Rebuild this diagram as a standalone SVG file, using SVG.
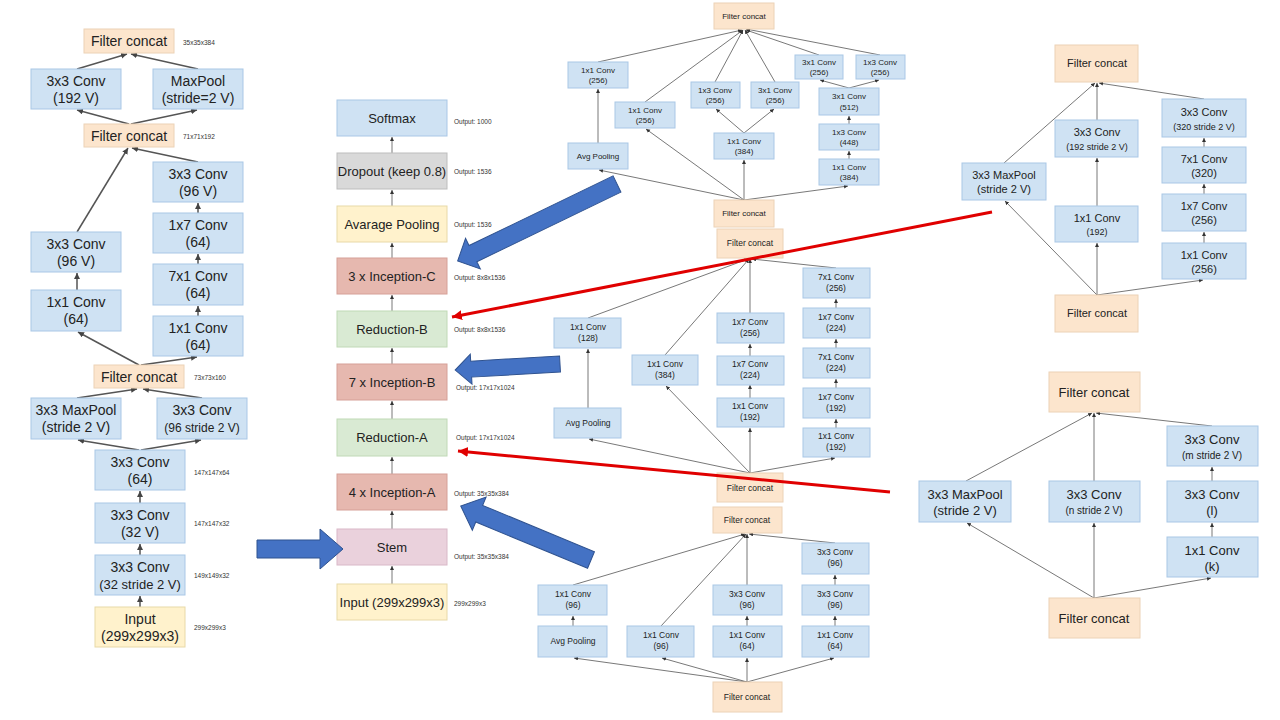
<svg xmlns="http://www.w3.org/2000/svg" width="1280" height="720" viewBox="0 0 1280 720">
<style>
text{font-family:"Liberation Sans",Arial,sans-serif;text-anchor:middle;fill:#222}
.b{fill:#cfe2f3;stroke:#a9c7e6;stroke-width:1}
.o{fill:#fce5cd;stroke:#ecd2b6;stroke-width:1}
.y{fill:#fff2cc;stroke:#e8d9a8;stroke-width:1}
.g{fill:#d9ead3;stroke:#c0d9b6;stroke-width:1}
.r{fill:#e6b8af;stroke:#d6a097;stroke-width:1}
.p{fill:#ead1dc;stroke:#d9b8c8;stroke-width:1}
.d{fill:#d9d9d9;stroke:#bdbdbd;stroke-width:1}
.f14{font-size:14px}.f13{font-size:13px}.f12{font-size:12px}.f11{font-size:11px}.f10{font-size:10px}.f9{font-size:9px}.f85{font-size:8.5px}.f8{font-size:8px}
.lab{font-size:6.5px;text-anchor:start;fill:#333}
.cl{stroke:#555;stroke-width:1.5;fill:none;marker-end:url(#ah)}
.cs{stroke:#555;stroke-width:0.8;fill:none;marker-end:url(#as)}
.red{stroke:#e00000;stroke-width:3;fill:none;marker-end:url(#ar)}
.blue{fill:#4472c4;stroke:#2f528f;stroke-width:1}
</style>
<defs>
<marker id="ah" markerUnits="userSpaceOnUse" markerWidth="7" markerHeight="7" refX="6" refY="3" orient="auto"><path d="M0,0 L6,3 L0,6 z" fill="#444"/></marker>
<marker id="as" markerUnits="userSpaceOnUse" markerWidth="5" markerHeight="5" refX="4" refY="2" orient="auto"><path d="M0,0 L4,2 L0,4 z" fill="#333"/></marker>
<marker id="ar" markerUnits="userSpaceOnUse" markerWidth="12" markerHeight="12" refX="10" refY="5" orient="auto"><path d="M0,0 L10,5 L0,10 z" fill="#e00000"/></marker>
</defs>
<rect width="1280" height="720" fill="#ffffff"/>

<!-- connectors -->
<g id="connectors">
<!-- stem (left) -->
<line class="cl" x1="77" y1="69" x2="127" y2="54"/>
<line class="cl" x1="198" y1="69" x2="131" y2="54"/>
<line class="cl" x1="129" y1="124" x2="77" y2="110"/>
<line class="cl" x1="131" y1="124" x2="197" y2="110"/>
<line class="cl" x1="77" y1="232" x2="128" y2="148"/>
<line class="cl" x1="198" y1="162" x2="132" y2="148"/>
<line class="cl" x1="198" y1="213" x2="198" y2="203"/>
<line class="cl" x1="198" y1="264" x2="198" y2="254"/>
<line class="cl" x1="198" y1="316" x2="198" y2="306"/>
<line class="cl" x1="77" y1="290" x2="77" y2="273"/>
<line class="cl" x1="139" y1="365" x2="78" y2="332"/>
<line class="cl" x1="141" y1="365" x2="197" y2="357"/>
<line class="cl" x1="77" y1="398" x2="137" y2="389"/>
<line class="cl" x1="202" y1="398" x2="143" y2="389"/>
<line class="cl" x1="139" y1="450" x2="78" y2="440"/>
<line class="cl" x1="141" y1="450" x2="201" y2="440"/>
<line class="cl" x1="140" y1="503" x2="140" y2="491"/>
<line class="cl" x1="140" y1="555" x2="140" y2="544"/>
<line class="cl" x1="140" y1="607" x2="140" y2="596"/>
<!-- main column -->
<line class="cs" x1="392" y1="153" x2="392" y2="137"/>
<line class="cs" x1="392" y1="206" x2="392" y2="190"/>
<line class="cs" x1="392" y1="258" x2="392" y2="243"/>
<line class="cs" x1="392" y1="311" x2="392" y2="295"/>
<line class="cs" x1="392" y1="364" x2="392" y2="348"/>
<line class="cs" x1="392" y1="419" x2="392" y2="401"/>
<line class="cs" x1="392" y1="474" x2="392" y2="457"/>
<line class="cs" x1="392" y1="529" x2="392" y2="511"/>
<line class="cs" x1="392" y1="584" x2="392" y2="566"/>
<!-- Inception-C -->
<line class="cs" x1="744" y1="200" x2="599" y2="170"/>
<line class="cs" x1="744" y1="200" x2="646" y2="129"/>
<line class="cs" x1="744" y1="200" x2="744" y2="160"/>
<line class="cs" x1="744" y1="200" x2="848" y2="186"/>
<line class="cs" x1="598" y1="143" x2="598" y2="89"/>
<line class="cs" x1="744" y1="133" x2="716" y2="109"/>
<line class="cs" x1="744" y1="133" x2="774" y2="109"/>
<line class="cs" x1="849" y1="159" x2="849" y2="151"/>
<line class="cs" x1="849" y1="124" x2="849" y2="116"/>
<line class="cs" x1="849" y1="88" x2="820" y2="80"/>
<line class="cs" x1="849" y1="88" x2="879" y2="80"/>
<line class="cs" x1="598" y1="62" x2="742" y2="30"/>
<line class="cs" x1="645" y1="102" x2="743" y2="30"/>
<line class="cs" x1="715" y1="82" x2="743" y2="30"/>
<line class="cs" x1="775" y1="82" x2="745" y2="30"/>
<line class="cs" x1="819" y1="55" x2="746" y2="30"/>
<line class="cs" x1="880" y1="55" x2="746" y2="29"/>
<!-- Inception-B -->
<line class="cs" x1="750" y1="473" x2="589" y2="439"/>
<line class="cs" x1="750" y1="473" x2="666" y2="386"/>
<line class="cs" x1="750" y1="473" x2="750" y2="428"/>
<line class="cs" x1="750" y1="473" x2="835" y2="458"/>
<line class="cs" x1="588" y1="408" x2="588" y2="349"/>
<line class="cs" x1="750" y1="398" x2="750" y2="385"/>
<line class="cs" x1="750" y1="356" x2="750" y2="344"/>
<line class="cs" x1="836" y1="428" x2="836" y2="419"/>
<line class="cs" x1="836" y1="388" x2="836" y2="379"/>
<line class="cs" x1="836" y1="348" x2="836" y2="339"/>
<line class="cs" x1="836" y1="308" x2="836" y2="299"/>
<line class="cs" x1="588" y1="318" x2="748" y2="259"/>
<line class="cs" x1="665" y1="355" x2="749" y2="259"/>
<line class="cs" x1="750" y1="313" x2="750" y2="259"/>
<line class="cs" x1="836" y1="268" x2="752" y2="259"/>
<!-- Inception-A -->
<line class="cs" x1="747" y1="682" x2="574" y2="658"/>
<line class="cs" x1="747" y1="682" x2="662" y2="658"/>
<line class="cs" x1="747" y1="682" x2="747" y2="658"/>
<line class="cs" x1="747" y1="682" x2="834" y2="658"/>
<line class="cs" x1="573" y1="626" x2="573" y2="616"/>
<line class="cs" x1="747" y1="626" x2="747" y2="616"/>
<line class="cs" x1="835" y1="626" x2="835" y2="616"/>
<line class="cs" x1="835" y1="585" x2="835" y2="575"/>
<line class="cs" x1="573" y1="585" x2="745" y2="534"/>
<line class="cs" x1="661" y1="626" x2="746" y2="534"/>
<line class="cs" x1="747" y1="585" x2="747" y2="534"/>
<line class="cs" x1="835" y1="543" x2="749" y2="534"/>
<!-- Reduction-B -->
<line class="cs" x1="1097" y1="295" x2="1005" y2="201"/>
<line class="cs" x1="1097" y1="295" x2="1097" y2="243"/>
<line class="cs" x1="1097" y1="295" x2="1203" y2="280"/>
<line class="cs" x1="1097" y1="206" x2="1097" y2="158"/>
<line class="cs" x1="1204" y1="243" x2="1204" y2="232"/>
<line class="cs" x1="1204" y1="194" x2="1204" y2="184"/>
<line class="cs" x1="1204" y1="147" x2="1204" y2="138"/>
<line class="cs" x1="1004" y1="163" x2="1095" y2="83"/>
<line class="cs" x1="1097" y1="120" x2="1097" y2="83"/>
<line class="cs" x1="1204" y1="99" x2="1099" y2="83"/>
<!-- Reduction-A -->
<line class="cs" x1="1094" y1="598" x2="967" y2="523"/>
<line class="cs" x1="1094" y1="598" x2="1094" y2="523"/>
<line class="cs" x1="1094" y1="598" x2="1211" y2="578"/>
<line class="cs" x1="1212" y1="537" x2="1212" y2="523"/>
<line class="cs" x1="1212" y1="481" x2="1212" y2="467"/>
<line class="cs" x1="966" y1="481" x2="1092" y2="413"/>
<line class="cs" x1="1094" y1="481" x2="1094" y2="413"/>
<line class="cs" x1="1212" y1="426" x2="1096" y2="413"/>
</g>

<!-- Stem (left) -->
<g id="stem-fc1"><rect class="o" x="84" y="29" width="90" height="24"/><text class="f14" x="129" y="46">Filter concat</text></g>
<g id="stem-c192"><rect class="b" x="31" y="69" width="90" height="40"/><text class="f14" x="76" y="86">3x3 Conv</text><text class="f14" x="76" y="103">(192 V)</text></g>
<g id="stem-mp"><rect class="b" x="153" y="69" width="90" height="40"/><text class="f14" x="198" y="86">MaxPool</text><text class="f14" x="198" y="103">(stride=2 V)</text></g>
<g id="stem-fc2"><rect class="o" x="84" y="124" width="90" height="23"/><text class="f14" x="129" y="141">Filter concat</text></g>
<g id="stem-c96r"><rect class="b" x="153" y="162" width="90" height="40"/><text class="f14" x="198" y="179">3x3 Conv</text><text class="f14" x="198" y="196">(96 V)</text></g>
<g id="stem-c17"><rect class="b" x="153" y="213" width="90" height="40"/><text class="f14" x="198" y="230">1x7 Conv</text><text class="f14" x="198" y="247">(64)</text></g>
<g id="stem-c71"><rect class="b" x="153" y="264" width="90" height="41"/><text class="f14" x="198" y="281">7x1 Conv</text><text class="f14" x="198" y="298">(64)</text></g>
<g id="stem-c11r"><rect class="b" x="153" y="316" width="90" height="40"/><text class="f14" x="198" y="333">1x1 Conv</text><text class="f14" x="198" y="350">(64)</text></g>
<g id="stem-c96l"><rect class="b" x="31" y="232" width="90" height="40"/><text class="f14" x="76" y="249">3x3 Conv</text><text class="f14" x="76" y="266">(96 V)</text></g>
<g id="stem-c11l"><rect class="b" x="31" y="290" width="90" height="41"/><text class="f14" x="76" y="307">1x1 Conv</text><text class="f14" x="76" y="324">(64)</text></g>
<g id="stem-fc3"><rect class="o" x="94" y="365" width="90" height="23"/><text class="f14" x="139" y="382">Filter concat</text></g>
<g id="stem-mp2"><rect class="b" x="31" y="398" width="90" height="41"/><text class="f14" x="76" y="415">3x3 MaxPool</text><text class="f14" x="76" y="432">(stride 2 V)</text></g>
<g id="stem-c96s"><rect class="b" x="157" y="398" width="90" height="41"/><text class="f14" x="202" y="415">3x3 Conv</text><text class="f12" x="202" y="432">(96 stride 2 V)</text></g>
<g id="stem-c64"><rect class="b" x="95" y="450" width="90" height="40"/><text class="f14" x="140" y="467">3x3 Conv</text><text class="f14" x="140" y="484">(64)</text></g>
<g id="stem-c32"><rect class="b" x="95" y="503" width="90" height="40"/><text class="f14" x="140" y="520">3x3 Conv</text><text class="f14" x="140" y="537">(32 V)</text></g>
<g id="stem-c32s"><rect class="b" x="95" y="555" width="90" height="40"/><text class="f14" x="140" y="572">3x3 Conv</text><text class="f13" x="140" y="589">(32 stride 2 V)</text></g>
<g id="stem-in"><rect class="y" x="95" y="607" width="90" height="40"/><text class="f14" x="140" y="624">Input</text><text class="f14" x="140" y="641">(299x299x3)</text></g>
<g id="stem-labels">
<text class="lab" x="183" y="45">35x35x384</text>
<text class="lab" x="183" y="139">71x71x192</text>
<text class="lab" x="194" y="380">73x73x160</text>
<text class="lab" x="194" y="475">147x147x64</text>
<text class="lab" x="194" y="526">147x147x32</text>
<text class="lab" x="194" y="578">149x149x32</text>
<text class="lab" x="194" y="630">299x299x3</text>
</g>

<!-- main column -->
<g id="m-softmax"><rect class="b" x="337" y="100" width="110" height="36"/><text class="f13" x="392" y="123">Softmax</text></g>
<g id="m-dropout"><rect class="d" x="337" y="153" width="110" height="36"/><text class="f13" x="392" y="176">Dropout (keep 0.8)</text></g>
<g id="m-avg"><rect class="y" x="337" y="206" width="110" height="36"/><text class="f13" x="392" y="229">Avarage Pooling</text></g>
<g id="m-incc"><rect class="r" x="337" y="258" width="110" height="36"/><text class="f13" x="392" y="281">3 x Inception-C</text></g>
<g id="m-redb"><rect class="g" x="337" y="311" width="110" height="36"/><text class="f13" x="392" y="334">Reduction-B</text></g>
<g id="m-incb"><rect class="r" x="337" y="364" width="110" height="36"/><text class="f13" x="392" y="387">7 x Inception-B</text></g>
<g id="m-reda"><rect class="g" x="337" y="419" width="110" height="37"/><text class="f13" x="392" y="442">Reduction-A</text></g>
<g id="m-inca"><rect class="r" x="337" y="474" width="110" height="36"/><text class="f13" x="392" y="497">4 x Inception-A</text></g>
<g id="m-stem"><rect class="p" x="337" y="529" width="110" height="36"/><text class="f13" x="392" y="552">Stem</text></g>
<g id="m-input"><rect class="y" x="337" y="584" width="110" height="36"/><text class="f13" x="392" y="607">Input (299x299x3)</text></g>
<g id="m-labels">
<text class="lab" x="454" y="124">Output: 1000</text>
<text class="lab" x="454" y="174">Output: 1536</text>
<text class="lab" x="454" y="227">Output: 1536</text>
<text class="lab" x="454" y="280">Output: 8x8x1536</text>
<text class="lab" x="454" y="332">Output: 8x8x1536</text>
<text class="lab" x="456" y="390">Output: 17x17x1024</text>
<text class="lab" x="456" y="440">Output: 17x17x1024</text>
<text class="lab" x="454" y="496">Output: 35x35x384</text>
<text class="lab" x="454" y="559">Output: 35x35x384</text>
<text class="lab" x="454" y="606">299x299x3</text>
</g>

<!-- Inception-C -->
<g id="c-top"><rect class="o" x="714" y="3" width="60" height="26"/><text class="f8" x="744" y="19">Filter concat</text></g>
<g id="c-1"><rect class="b" x="568" y="62" width="60" height="26"/><text class="f8" x="598" y="73">1x1 Conv</text><text class="f8" x="598" y="83">(256)</text></g>
<g id="c-avg"><rect class="b" x="568" y="143" width="60" height="26"/><text class="f8" x="598" y="159">Avg Pooling</text></g>
<g id="c-2"><rect class="b" x="615" y="102" width="60" height="26"/><text class="f8" x="645" y="113">1x1 Conv</text><text class="f8" x="645" y="123">(256)</text></g>
<g id="c-3"><rect class="b" x="691" y="82" width="49" height="26"/><text class="f8" x="715" y="93">1x3 Conv</text><text class="f8" x="715" y="103">(256)</text></g>
<g id="c-4"><rect class="b" x="751" y="82" width="48" height="26"/><text class="f8" x="775" y="93">3x1 Conv</text><text class="f8" x="775" y="103">(256)</text></g>
<g id="c-5"><rect class="b" x="714" y="133" width="60" height="26"/><text class="f8" x="744" y="144">1x1 Conv</text><text class="f8" x="744" y="154">(384)</text></g>
<g id="c-6"><rect class="b" x="795" y="55" width="48" height="24"/><text class="f8" x="819" y="65">3x1 Conv</text><text class="f8" x="819" y="75">(256)</text></g>
<g id="c-7"><rect class="b" x="856" y="55" width="49" height="24"/><text class="f8" x="880" y="65">1x3 Conv</text><text class="f8" x="880" y="75">(256)</text></g>
<g id="c-8"><rect class="b" x="819" y="88" width="60" height="27"/><text class="f8" x="849" y="99">3x1 Conv</text><text class="f8" x="849" y="110">(512)</text></g>
<g id="c-9"><rect class="b" x="819" y="124" width="60" height="26"/><text class="f8" x="849" y="135">1x3 Conv</text><text class="f8" x="849" y="145">(448)</text></g>
<g id="c-10"><rect class="b" x="819" y="159" width="60" height="26"/><text class="f8" x="849" y="170">1x1 Conv</text><text class="f8" x="849" y="180">(384)</text></g>
<g id="c-bot"><rect class="o" x="714" y="200" width="60" height="27"/><text class="f8" x="744" y="216">Filter concat</text></g>

<!-- Inception-B -->
<g id="b-top"><rect class="o" x="717" y="229" width="66" height="29"/><text class="f85" x="750" y="246">Filter concat</text></g>
<g id="b-1"><rect class="b" x="554" y="318" width="67" height="30"/><text class="f85" x="588" y="330">1x1 Conv</text><text class="f85" x="588" y="341">(128)</text></g>
<g id="b-avg"><rect class="b" x="554" y="408" width="67" height="30"/><text class="f85" x="588" y="426">Avg Pooling</text></g>
<g id="b-2"><rect class="b" x="632" y="355" width="66" height="30"/><text class="f85" x="665" y="367">1x1 Conv</text><text class="f85" x="665" y="378">(384)</text></g>
<g id="b-3"><rect class="b" x="717" y="313" width="67" height="30"/><text class="f85" x="750" y="325">1x7 Conv</text><text class="f85" x="750" y="336">(256)</text></g>
<g id="b-4"><rect class="b" x="717" y="356" width="67" height="29"/><text class="f85" x="750" y="367">1x7 Conv</text><text class="f85" x="750" y="378">(224)</text></g>
<g id="b-5"><rect class="b" x="717" y="398" width="67" height="29"/><text class="f85" x="750" y="409">1x1 Conv</text><text class="f85" x="750" y="420">(192)</text></g>
<g id="b-6"><rect class="b" x="803" y="268" width="67" height="30"/><text class="f85" x="836" y="280">7x1 Conv</text><text class="f85" x="836" y="291">(256)</text></g>
<g id="b-7"><rect class="b" x="803" y="308" width="67" height="30"/><text class="f85" x="836" y="320">1x7 Conv</text><text class="f85" x="836" y="331">(224)</text></g>
<g id="b-8"><rect class="b" x="803" y="348" width="67" height="30"/><text class="f85" x="836" y="360">7x1 Conv</text><text class="f85" x="836" y="371">(224)</text></g>
<g id="b-9"><rect class="b" x="803" y="388" width="67" height="30"/><text class="f85" x="836" y="400">1x7 Conv</text><text class="f85" x="836" y="411">(192)</text></g>
<g id="b-10"><rect class="b" x="803" y="428" width="67" height="29"/><text class="f85" x="836" y="439">1x1 Conv</text><text class="f85" x="836" y="450">(192)</text></g>
<g id="b-bot"><rect class="o" x="717" y="473" width="66" height="29"/><text class="f85" x="750" y="491">Filter concat</text></g>

<!-- Inception-A -->
<g id="a-top"><rect class="o" x="713" y="507" width="69" height="26"/><text class="f85" x="747" y="523">Filter concat</text></g>
<g id="a-1"><rect class="b" x="538" y="585" width="69" height="30"/><text class="f85" x="573" y="597">1x1 Conv</text><text class="f85" x="573" y="608">(96)</text></g>
<g id="a-avg"><rect class="b" x="538" y="626" width="69" height="31"/><text class="f85" x="573" y="644">Avg Pooling</text></g>
<g id="a-2"><rect class="b" x="627" y="626" width="67" height="31"/><text class="f85" x="661" y="638">1x1 Conv</text><text class="f85" x="661" y="649">(96)</text></g>
<g id="a-3"><rect class="b" x="713" y="585" width="69" height="30"/><text class="f85" x="747" y="597">3x3 Conv</text><text class="f85" x="747" y="608">(96)</text></g>
<g id="a-4"><rect class="b" x="713" y="626" width="69" height="31"/><text class="f85" x="747" y="638">1x1 Conv</text><text class="f85" x="747" y="649">(64)</text></g>
<g id="a-5"><rect class="b" x="802" y="543" width="67" height="31"/><text class="f85" x="835" y="555">3x3 Conv</text><text class="f85" x="835" y="566">(96)</text></g>
<g id="a-6"><rect class="b" x="802" y="585" width="67" height="30"/><text class="f85" x="835" y="597">3x3 Conv</text><text class="f85" x="835" y="608">(96)</text></g>
<g id="a-7"><rect class="b" x="802" y="626" width="67" height="31"/><text class="f85" x="835" y="638">1x1 Conv</text><text class="f85" x="835" y="649">(64)</text></g>
<g id="a-bot"><rect class="o" x="713" y="682" width="69" height="30"/><text class="f85" x="747" y="700">Filter concat</text></g>

<!-- Reduction-B -->
<g id="rb-top"><rect class="o" x="1055" y="45" width="83" height="37"/><text class="f11" x="1097" y="67">Filter concat</text></g>
<g id="rb-mp"><rect class="b" x="962" y="163" width="84" height="37"/><text class="f11" x="1004" y="179">3x3 MaxPool</text><text class="f11" x="1004" y="193">(stride 2 V)</text></g>
<g id="rb-1"><rect class="b" x="1055" y="120" width="83" height="37"/><text class="f11" x="1097" y="136">3x3 Conv</text><text class="f9" x="1097" y="150">(192 stride 2 V)</text></g>
<g id="rb-2"><rect class="b" x="1055" y="206" width="83" height="36"/><text class="f11" x="1097" y="222">1x1 Conv</text><text class="f9" x="1097" y="235">(192)</text></g>
<g id="rb-3"><rect class="b" x="1162" y="99" width="84" height="38"/><text class="f11" x="1204" y="116">3x3 Conv</text><text class="f9" x="1204" y="130">(320 stride 2 V)</text></g>
<g id="rb-4"><rect class="b" x="1162" y="147" width="84" height="36"/><text class="f11" x="1204" y="163">7x1 Conv</text><text class="f11" x="1204" y="177">(320)</text></g>
<g id="rb-5"><rect class="b" x="1162" y="194" width="84" height="37"/><text class="f11" x="1204" y="210">1x7 Conv</text><text class="f11" x="1204" y="224">(256)</text></g>
<g id="rb-6"><rect class="b" x="1162" y="243" width="84" height="36"/><text class="f11" x="1204" y="259">1x1 Conv</text><text class="f11" x="1204" y="273">(256)</text></g>
<g id="rb-bot"><rect class="o" x="1055" y="295" width="83" height="37"/><text class="f11" x="1097" y="317">Filter concat</text></g>

<!-- Reduction-A -->
<g id="ra-top"><rect class="o" x="1049" y="372" width="91" height="40"/><text class="f13" x="1094" y="397">Filter concat</text></g>
<g id="ra-mp"><rect class="b" x="919" y="481" width="92" height="41"/><text class="f13" x="965" y="499">3x3 MaxPool</text><text class="f13" x="965" y="515">(stride 2 V)</text></g>
<g id="ra-1"><rect class="b" x="1049" y="481" width="91" height="41"/><text class="f13" x="1094" y="499">3x3 Conv</text><text class="f10" x="1094" y="514">(n stride 2 V)</text></g>
<g id="ra-2"><rect class="b" x="1167" y="426" width="91" height="40"/><text class="f13" x="1212" y="444">3x3 Conv</text><text class="f10" x="1212" y="459">(m stride 2 V)</text></g>
<g id="ra-3"><rect class="b" x="1167" y="481" width="91" height="41"/><text class="f13" x="1212" y="499">3x3 Conv</text><text class="f13" x="1212" y="515">(l)</text></g>
<g id="ra-4"><rect class="b" x="1167" y="537" width="91" height="40"/><text class="f13" x="1212" y="555">1x1 Conv</text><text class="f13" x="1212" y="571">(k)</text></g>
<g id="ra-bot"><rect class="o" x="1049" y="598" width="91" height="40"/><text class="f13" x="1094" y="623">Filter concat</text></g>

<!-- pointer arrows -->
<g id="pointers">
<line class="red" x1="992" y1="212" x2="452" y2="317"/>
<line class="red" x1="890" y1="492" x2="458" y2="451"/>
<polygon class="blue" transform="translate(617,184) rotate(154.2)" points="0,-9 160,-9 160,-17 177,0 160,17 160,9 0,9"/>
<polygon class="blue" transform="translate(560,364) rotate(176.7)" points="0,-8 89,-8 89,-15 105,0 89,15 89,8 0,8"/>
<polygon class="blue" transform="translate(591,560) rotate(202.5)" points="0,-9 121,-9 121,-18 141,0 121,18 121,9 0,9"/>
<polygon class="blue" points="257,540 320,540 320,529 343,549 320,569 320,558 257,558"/>
</g>
</svg>
